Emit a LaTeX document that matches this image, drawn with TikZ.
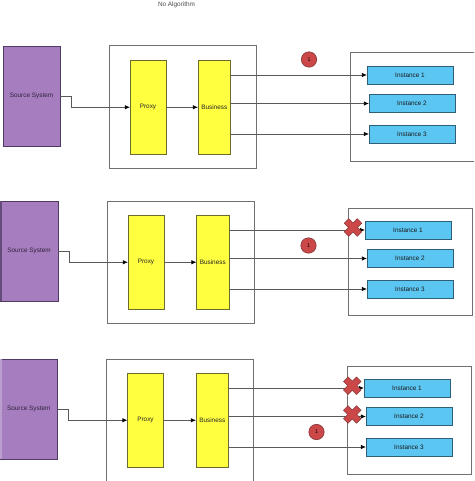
\documentclass[tikz,border=0pt]{standalone}
\usepackage{fontspec}
\setmainfont{Liberation Sans}
\usetikzlibrary{arrows.meta}
\definecolor{srcfill}{HTML}{A67EBF}
\definecolor{srcline}{HTML}{4F3A63}
\definecolor{yel}{HTML}{FFFF40}
\definecolor{yelline}{HTML}{6B6B30}
\definecolor{blu}{HTML}{5CC6F2}
\definecolor{bluline}{HTML}{2F5F78}
\definecolor{redf}{HTML}{CC4848}
\definecolor{redl}{HTML}{8A3A3A}
\definecolor{frameline}{HTML}{707070}
\tikzset{
  x=0.75pt,y=-0.75pt,
  base/.style={rectangle,inner sep=0pt,outer sep=0pt,font=\fontsize{4.8pt}{6pt}\selectfont,text=black!85},
  sourcebox/.style={base,fill=srcfill,draw=srcline,line width=0.7pt,text=srcline!60!black},
  framebox/.style={base,fill=white,draw=frameline,line width=0.75pt},
  yellowbox/.style={base,fill=yel,draw=yelline,line width=0.6pt,text=black!85},
  instbox/.style={base,fill=blu,draw=bluline,line width=0.7pt,text=black!90},
  badge/.style={circle,inner sep=0pt,outer sep=0pt,minimum size=11.5pt,fill=redf,draw=redl,line width=0.5pt,font=\fontsize{4pt}{4pt}\selectfont},
  conn/.style={draw=black!65,line width=0.6pt,-{Latex[length=3.8pt,width=3.2pt,black]}},
  titletext/.style={inner sep=0pt,font=\fontsize{4.8pt}{6pt}\selectfont,text=black!70},
}
% name, x0, y0, x1, y1, style, text
\newcommand{\bx}[7]{%
  \pgfmathsetmacro{\bw}{((#4)-(#2))*0.75}%
  \pgfmathsetmacro{\bh}{((#5)-(#3))*0.75}%
  \node[#6,minimum width=\bw pt,minimum height=\bh pt] (#1) at ({((#2)+(#4))/2},{((#3)+(#5))/2}) {\raisebox{-0.5pt}{#7}};}
\newcommand{\redcross}[2]{%
  \path[fill=redf,draw=redl,line width=0.4pt,shift={(#1,#2)},rotate=45]
    (-3.2,-3.2)--(-3.2,-9.2)--(3.2,-9.2)--(3.2,-3.2)--(9.2,-3.2)--(9.2,3.2)--(3.2,3.2)--(3.2,9.2)--(-3.2,9.2)--(-3.2,3.2)--(-9.2,3.2)--(-9.2,-3.2)--cycle;}
\newcommand{\panel}[9]{%
  % #1 prefix; #2-#3 source x0,x1; #4 source top; #5 frame x0; #6 frame x1; #7 proxy x0; #8 business x0; #9 frame bottom
  \bx{#1frame}{#5}{#4}{#6}{#9}{framebox}{}
  \bx{#1src}{#2}{#4}{#3}{#4+100}{sourcebox}{Source System}
  \bx{#1proxy}{#7}{#4+14.5}{#7+36}{#4+108}{yellowbox}{Proxy}
  \bx{#1biz}{#8}{#4+14.5}{#8+32.5}{#4+108}{yellowbox}{Business}
}
\newcommand{\wires}[1]{%
  \draw[conn] (#1src.east) -- ++(11,0) |- (#1proxy.west);
  \draw[conn] (#1proxy.east) -- (#1biz.west);
  \foreach \i in {1,2,3}{\draw[conn] (#1biz.east |- #1inst\i.west) -- (#1inst\i.west);}
}
\begin{document}
\begin{tikzpicture}
\useasboundingbox (0,0) rectangle (474,481);
\clip (0,0) rectangle (474,481);
\fill[white] (0,0) rectangle (474,481);
\node[titletext] (title) at (176.5,4.5) {No Algorithm};

% Panel 1
\panel{a}{3}{60}{46}{109}{256}{130}{198}{168}
\bx{aiframe}{350}{53}{482}{161}{framebox}{}
\bx{ainst1}{367}{66}{453}{84}{instbox}{Instance 1}
\bx{ainst2}{369}{94.5}{455}{112.5}{instbox}{Instance 2}
\bx{ainst3}{369}{125}{455}{143}{instbox}{Instance 3}
\wires{a}
\node[badge] (abadge) at (309,59.5) {1};

% Panel 2
\panel{b}{0}{58}{201}{107}{254}{128}{196.5}{323}
\fill[srcline!75!srcfill] (0,201) rectangle (2,301);
\bx{biframe}{348}{208.5}{472}{315.5}{framebox}{}
\bx{binst1}{365}{221}{451}{239}{instbox}{Instance 1}
\bx{binst2}{367}{249.5}{453}{267.5}{instbox}{Instance 2}
\bx{binst3}{367}{280}{453}{298}{instbox}{Instance 3}
\wires{b}
\node[badge] (bbadge) at (308.5,245.5) {1};
\redcross{353}{227.5}

% Panel 3
\panel{c}{0}{57.5}{359}{106}{253}{127.5}{196}{495}
\fill[srcfill!75!white] (0,359) rectangle (2,459);
\bx{ciframe}{347.5}{366.5}{471}{474}{framebox}{}
\bx{cinst1}{364}{379}{450}{397}{instbox}{Instance 1}
\bx{cinst2}{366}{407.5}{452}{425.5}{instbox}{Instance 2}
\bx{cinst3}{366}{438}{452}{456}{instbox}{Instance 3}
\wires{c}
\node[badge] (cbadge) at (316.5,432) {1};
\redcross{352.3}{385.7}
\redcross{352.3}{414.5}
\end{tikzpicture}
\end{document}
